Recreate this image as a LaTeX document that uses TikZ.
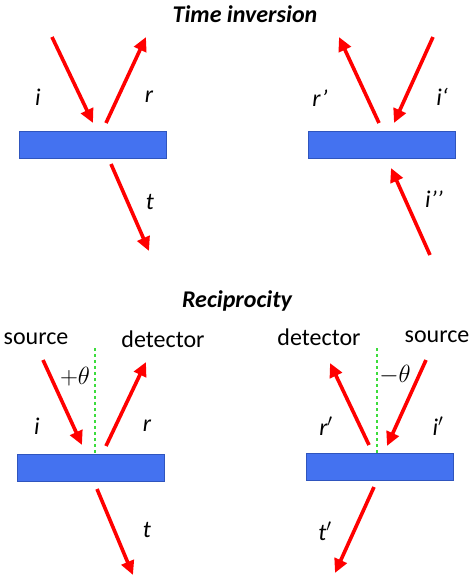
\documentclass[tikz,border=0pt]{standalone}
\usepackage{fontspec}
\setmainfont{Carlito}
\usetikzlibrary{arrows.meta}

\definecolor{rayred}{RGB}{255,0,0}
\definecolor{slabblue}{RGB}{68,114,240}
\definecolor{slabedge}{RGB}{47,85,190}
\definecolor{normgreen}{RGB}{60,220,60}

\tikzset{
  slab/.style={rectangle, draw=slabedge, fill=slabblue, line width=0.8pt,
    minimum width=147pt, minimum height=27pt, inner sep=0pt},
  ray/.style={draw=rayred, line width=3.6pt, -{Triangle[length=14pt,width=13pt]}},
  lbl/.style={font=\fontsize{24}{28}\selectfont\itshape},
  word/.style={font=\fontsize{24}{28}\selectfont},
  heading/.style={font=\fontsize{24}{28}\selectfont\bfseries\itshape},
  normal/.style={draw=normgreen, dashed, line width=1.2pt}
}

\begin{document}
\begin{tikzpicture}[x=1pt, y=-1pt]

        \useasboundingbox (0,0) rectangle (474,579);

        % Titles
        \node (title_ti) [heading] at (245, 14) {Time inversion};
        \node (title_rc) [heading] at (237, 301) {Reciprocity};

        % Slabs
        \node (slab_a) [slab] at (92.5, 144.5) {};
        \node (slab_b) [slab] at (382, 144.5) {};
        \node (slab_c) [slab] at (90.5, 467.5) {};
        \node (slab_d) [slab] at (380, 467) {};

        % Ray ends, time inversion (left)
        \coordinate (i_a0) at (52, 37);
        \coordinate (i_a1) at (93, 123);
        \coordinate (r_a0) at (106, 123);
        \coordinate (r_a1) at (146, 37);
        \coordinate (t_a0) at (111, 164);
        \coordinate (t_a1) at (149, 251);

        % Ray ends, time inversion (right)
        \coordinate (r_b0) at (379, 123);
        \coordinate (r_b1) at (339, 37);
        \coordinate (i_b0) at (433, 37);
        \coordinate (i_b1) at (394, 123);
        \coordinate (ii_b0) at (430, 255);
        \coordinate (ii_b1) at (391, 168);

        % Ray ends, reciprocity (left)
        \coordinate (i_c0) at (43, 360);
        \coordinate (i_c1) at (82, 445);
        \coordinate (r_c0) at (106, 446);
        \coordinate (r_c1) at (146, 362);
        \coordinate (t_c0) at (97, 489);
        \coordinate (t_c1) at (133, 575);
        \coordinate (n_c0) at (95, 348);
        \coordinate (n_c1) at (95, 453);

        % Ray ends, reciprocity (right)
        \coordinate (r_d0) at (369, 445);
        \coordinate (r_d1) at (330, 363);
        \coordinate (i_d0) at (426, 360);
        \coordinate (i_d1) at (387, 446);
        \coordinate (t_d0) at (374, 487);
        \coordinate (t_d1) at (335, 573);
        \coordinate (n_d0) at (377, 348);
        \coordinate (n_d1) at (377, 454);

        % Normals
        \draw[normal] (n_c0) -- (n_c1);
        \draw[normal] (n_d0) -- (n_d1);

        % Rays
        \draw[ray] (i_a0) -- (i_a1);
        \draw[ray] (r_a0) -- (r_a1);
        \draw[ray] (t_a0) -- (t_a1);
        \draw[ray] (r_b0) -- (r_b1);
        \draw[ray] (i_b0) -- (i_b1);
        \draw[ray] (ii_b0) -- (ii_b1);
        \draw[ray] (i_c0) -- (i_c1);
        \draw[ray] (r_c0) -- (r_c1);
        \draw[ray] (t_c0) -- (t_c1);
        \draw[ray] (r_d0) -- (r_d1);
        \draw[ray] (i_d0) -- (i_d1);
        \draw[ray] (t_d0) -- (t_d1);

        % Ray labels
        \node (lab_ia) [lbl] at (38, 97) {i};
        \node (lab_ra) [lbl] at (149, 97) {r};
        \node (lab_ta) [lbl] at (150, 202) {t};
        \node (lab_rb) [lbl] at (320, 98) {r’};
        \node (lab_ib) [lbl] at (442, 97) {i‘};
        \node (lab_iib) [lbl] at (434, 199) {i’’};
        \node (lab_ic) [lbl] at (37, 426) {i};
        \node (lab_rc) [lbl] at (147, 426) {r};
        \node (lab_tc) [lbl] at (147, 530) {t};
        \node (lab_rd) [lbl] at (326, 426) {r$'$};
        \node (lab_id) [lbl] at (438, 426) {i$'$};
        \node (lab_td) [lbl] at (325, 531) {t$'$};

        % Angles
        \node (ang_c) [word] at (75, 377) {$+\theta$};
        \node (ang_d) [word] at (395, 375) {$-\theta$};

        % Source and detector
        \node (src_c) [word] at (36, 339) {source};
        \node (det_c) [word] at (163, 339) {detector};
        \node (det_d) [word] at (319, 337) {detector};
        \node (src_d) [word] at (437, 337) {source};

    \end{tikzpicture}
\end{document}
